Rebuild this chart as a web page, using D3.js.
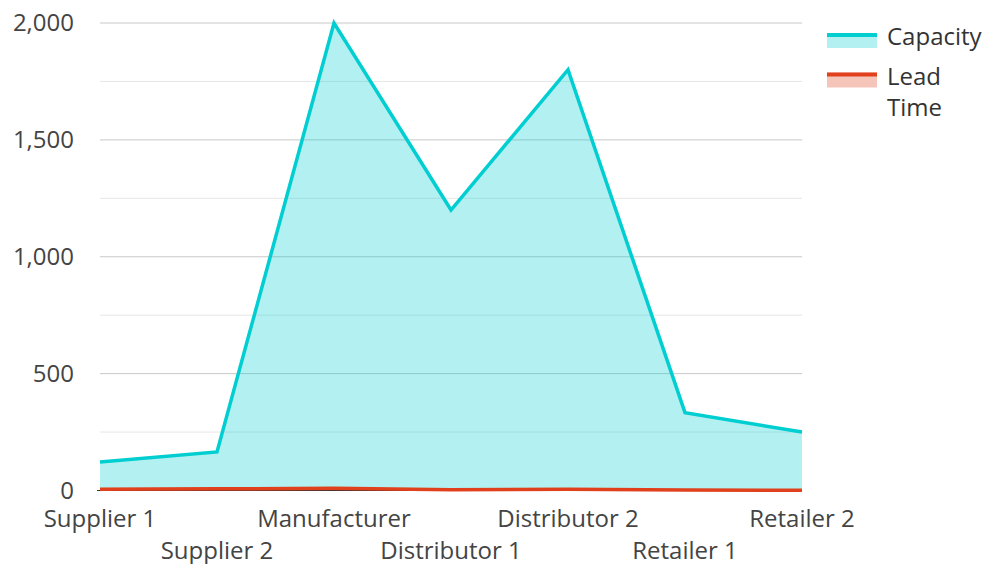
<!DOCTYPE html>
<html><head><meta charset="utf-8">
<script src="https://cdn.jsdelivr.net/npm/d3@7"></script>
<style>body{margin:0;background:#fff;} text{font-family:"Open Sans","Noto Sans",sans-serif;}</style>
</head><body><svg id="c" width="988" height="564"></svg>
<script>
const categories = ["Supplier 1","Supplier 2","Manufacturer","Distributor 1","Distributor 2","Retailer 1","Retailer 2"];
const capacity = [122, 165, 2000, 1200, 1800, 333, 250];
const leadTime = [5, 7, 10, 3, 5, 2, 1];
const yTicks = [0, 500, 1000, 1500, 2000];
const yMinor = [250, 750, 1250, 1750];
const seriesNames = ["Capacity", "Lead\nTime"];
const colors = ["#00CED1", "#E0401C"];

const svg = d3.select("#c");
const x = d3.scalePoint().domain(categories).range([100, 802]);
const y = d3.scaleLinear().domain([0, 2000]).range([490.5, 23]);

// gridlines
svg.append("g").selectAll("line").data(yMinor).join("line")
  .attr("x1", 100).attr("x2", 802).attr("y1", d => y(d)).attr("y2", d => y(d))
  .attr("stroke", "#e6e6e6").attr("stroke-width", 1);
svg.append("g").selectAll("line").data(yTicks).join("line")
  .attr("x1", 100).attr("x2", 802).attr("y1", d => y(d)).attr("y2", d => y(d))
  .attr("stroke", "#c8c8c8").attr("stroke-width", 1);

// y labels
svg.append("g").selectAll("text").data(yTicks).join("text")
  .attr("x", 74).attr("y", d => y(d)).attr("dy", "0.35em")
  .attr("text-anchor", "end").attr("font-size", 24).attr("fill", "#444")
  .text(d => d3.format(",")(d));

function drawSeries(vals, col) {
  const pts = categories.map((c, i) => [x(c), y(vals[i])]);
  svg.append("path").datum(pts)
    .attr("d", d3.area().x(d => d[0]).y0(y(0)).y1(d => d[1]))
    .attr("fill", col).attr("fill-opacity", 0.3);
  svg.append("path").datum(pts)
    .attr("d", d3.line().x(d => d[0]).y(d => d[1]))
    .attr("fill", "none").attr("stroke", col).attr("stroke-width", 3.5)
    .attr("stroke-linejoin", "miter");
}
drawSeries(capacity, colors[0]);
// baseline
svg.append("line").attr("x1", 97).attr("x2", 802).attr("y1", y(0)).attr("y2", y(0))
  .attr("stroke", "#333").attr("stroke-width", 1);
drawSeries(leadTime, colors[1]);

// x labels
svg.append("g").selectAll("text").data(categories).join("text")
  .attr("x", d => x(d)).attr("y", (d, i) => i % 2 === 0 ? 527 : 559)
  .attr("text-anchor", "middle").attr("font-size", 24).attr("fill", "#444")
  .text(d => d);

// legend
const lg = svg.append("g");
seriesNames.forEach((name, i) => {
  const top = 33 + i * 39.5;
  lg.append("rect").attr("x", 827).attr("y", top).attr("width", 50).attr("height", 15)
    .attr("fill", colors[i]).attr("fill-opacity", 0.3);
  lg.append("rect").attr("x", 827).attr("y", top).attr("width", 50).attr("height", 4)
    .attr("fill", colors[i]);
  const t = lg.append("text").attr("x", 887).attr("y", top + 12).attr("font-size", 24).attr("fill", "#333");
  name.split("\n").forEach((part, j) => {
    t.append("tspan").attr("x", 887).attr("dy", j === 0 ? 0 : 31).text(part);
  });
});
</script></body></html>
